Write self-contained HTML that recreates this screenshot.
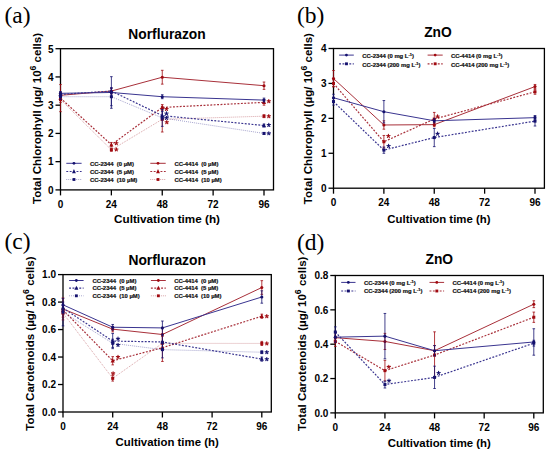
<!DOCTYPE html>
<html><head><meta charset="utf-8"><style>
html,body{margin:0;padding:0;background:#fff;width:550px;height:456px;overflow:hidden}
svg{display:block}
</style></head><body>
<svg width="550" height="456" viewBox="0 0 550 456">
<rect width="550" height="456" fill="#fff"/>
<text x="4.5" y="23.3" font-family="'Liberation Serif', serif" font-size="23.5" fill="#000">(a)</text>
<text x="167" y="38.9" font-family="'Liberation Sans', sans-serif" font-weight="bold" font-size="13.8" text-anchor="middle" fill="#000">Norflurazon</text>
<rect x="60.5" y="48.7" width="213" height="141.2" fill="none" stroke="#000" stroke-width="1.3"/>
<line x1="55.5" y1="189.9" x2="60.5" y2="189.9" stroke="#000" stroke-width="1.3"/>
<text x="53.5" y="193.7" font-family="'Liberation Sans', sans-serif" font-weight="bold" font-size="10" text-anchor="end" fill="#000">0</text>
<line x1="55.5" y1="161.66" x2="60.5" y2="161.66" stroke="#000" stroke-width="1.3"/>
<text x="53.5" y="165.46" font-family="'Liberation Sans', sans-serif" font-weight="bold" font-size="10" text-anchor="end" fill="#000">1</text>
<line x1="55.5" y1="133.42" x2="60.5" y2="133.42" stroke="#000" stroke-width="1.3"/>
<text x="53.5" y="137.22" font-family="'Liberation Sans', sans-serif" font-weight="bold" font-size="10" text-anchor="end" fill="#000">2</text>
<line x1="55.5" y1="105.18" x2="60.5" y2="105.18" stroke="#000" stroke-width="1.3"/>
<text x="53.5" y="108.98" font-family="'Liberation Sans', sans-serif" font-weight="bold" font-size="10" text-anchor="end" fill="#000">3</text>
<line x1="55.5" y1="76.94" x2="60.5" y2="76.94" stroke="#000" stroke-width="1.3"/>
<text x="53.5" y="80.74" font-family="'Liberation Sans', sans-serif" font-weight="bold" font-size="10" text-anchor="end" fill="#000">4</text>
<line x1="55.5" y1="48.7" x2="60.5" y2="48.7" stroke="#000" stroke-width="1.3"/>
<text x="53.5" y="52.5" font-family="'Liberation Sans', sans-serif" font-weight="bold" font-size="10" text-anchor="end" fill="#000">5</text>
<line x1="60.5" y1="189.9" x2="60.5" y2="195.4" stroke="#000" stroke-width="1.3"/>
<text x="60.5" y="207.6" font-family="'Liberation Sans', sans-serif" font-weight="bold" font-size="10" text-anchor="middle" fill="#000">0</text>
<line x1="111.38" y1="189.9" x2="111.38" y2="195.4" stroke="#000" stroke-width="1.3"/>
<text x="111.38" y="207.6" font-family="'Liberation Sans', sans-serif" font-weight="bold" font-size="10" text-anchor="middle" fill="#000">24</text>
<line x1="162.25" y1="189.9" x2="162.25" y2="195.4" stroke="#000" stroke-width="1.3"/>
<text x="162.25" y="207.6" font-family="'Liberation Sans', sans-serif" font-weight="bold" font-size="10" text-anchor="middle" fill="#000">48</text>
<line x1="213.12" y1="189.9" x2="213.12" y2="195.4" stroke="#000" stroke-width="1.3"/>
<text x="213.12" y="207.6" font-family="'Liberation Sans', sans-serif" font-weight="bold" font-size="10" text-anchor="middle" fill="#000">72</text>
<line x1="264" y1="189.9" x2="264" y2="195.4" stroke="#000" stroke-width="1.3"/>
<text x="264" y="207.6" font-family="'Liberation Sans', sans-serif" font-weight="bold" font-size="10" text-anchor="middle" fill="#000">96</text>
<text x="167" y="223.4" font-family="'Liberation Sans', sans-serif" font-weight="bold" font-size="11.7" text-anchor="middle" fill="#000">Cultivation time (h)</text>
<text transform="translate(41,118.5) rotate(-90)" font-family="'Liberation Sans', sans-serif" font-weight="bold" font-size="11.5" text-anchor="middle" fill="#000">Total Chlorophyll (µg/ 10<tspan font-size="8.8" dy="-5">6</tspan><tspan dy="5"> cells)</tspan></text>
<polyline points="60.5,95.3 111.38,91.06 162.25,77.22 264,85.69" fill="none" stroke="#a8303a" stroke-width="1.0"/>
<polyline points="60.5,98.12 111.38,144.72 162.25,107.44 264,102.36" fill="none" stroke="#a8303a" stroke-width="1.2" stroke-dasharray="1.9 1.5"/>
<polyline points="60.5,99.53 111.38,149.8 162.25,119.3 264,116.19" fill="none" stroke="#a8303a" stroke-width="0.9" stroke-dasharray="0.9 1.1" stroke-opacity="0.55"/>
<polyline points="60.5,93.32 111.38,92.47 162.25,96.71 264,100.1" fill="none" stroke="#3a3590" stroke-width="1.0"/>
<polyline points="60.5,94.45 111.38,91.06 162.25,115.63 264,125.51" fill="none" stroke="#3a3590" stroke-width="1.2" stroke-dasharray="1.9 1.5"/>
<polyline points="60.5,96.71 111.38,96.71 162.25,117.89 264,133.42" fill="none" stroke="#3a3590" stroke-width="0.9" stroke-dasharray="0.9 1.1" stroke-opacity="0.55"/>
<path d="M60.5 92.47V98.12M59.2 92.47H61.8M59.2 98.12H61.8" stroke="#a00a10" stroke-width="0.8" fill="none"/>
<circle cx="60.5" cy="95.3" r="1.55" fill="#a00a10"/>
<path d="M111.38 88.24V93.88M110.08 88.24H112.67M110.08 93.88H112.67" stroke="#a00a10" stroke-width="0.8" fill="none"/>
<circle cx="111.38" cy="91.06" r="1.55" fill="#a00a10"/>
<path d="M162.25 70.3V84.14M160.95 70.3H163.55M160.95 84.14H163.55" stroke="#a00a10" stroke-width="0.8" fill="none"/>
<circle cx="162.25" cy="77.22" r="1.55" fill="#a00a10"/>
<path d="M264 82.02V89.37M262.7 82.02H265.3M262.7 89.37H265.3" stroke="#a00a10" stroke-width="0.8" fill="none"/>
<circle cx="264" cy="85.69" r="1.55" fill="#a00a10"/>
<path d="M60.5 84.56V111.68M59.2 84.56H61.8M59.2 111.68H61.8" stroke="#a00a10" stroke-width="0.8" fill="none"/>
<path d="M60.5 95.54L62.55 99.84L58.45 99.84Z" fill="#a00a10"/>
<path d="M111.38 142.46V146.98M110.08 142.46H112.67M110.08 146.98H112.67" stroke="#a00a10" stroke-width="0.8" fill="none"/>
<path d="M111.38 142.14L113.42 146.44L109.33 146.44Z" fill="#a00a10"/>
<path d="M162.25 104.62V110.26M160.95 104.62H163.55M160.95 110.26H163.55" stroke="#a00a10" stroke-width="0.8" fill="none"/>
<path d="M162.25 104.86L164.3 109.16L160.2 109.16Z" fill="#a00a10"/>
<path d="M264 99.53V105.18M262.7 99.53H265.3M262.7 105.18H265.3" stroke="#a00a10" stroke-width="0.8" fill="none"/>
<path d="M264 99.78L266.05 104.08L261.95 104.08Z" fill="#a00a10"/>
<path d="M60.5 96.71V102.36M59.2 96.71H61.8M59.2 102.36H61.8" stroke="#a00a10" stroke-width="0.8" fill="none"/>
<rect x="59" y="98.03" width="3" height="3" fill="#a00a10"/>
<path d="M111.38 148.39V151.21M110.08 148.39H112.67M110.08 151.21H112.67" stroke="#a00a10" stroke-width="0.8" fill="none"/>
<rect x="109.88" y="148.3" width="3" height="3" fill="#a00a10"/>
<path d="M162.25 106.59V132.01M160.95 106.59H163.55M160.95 132.01H163.55" stroke="#a00a10" stroke-width="0.8" fill="none"/>
<rect x="160.75" y="117.8" width="3" height="3" fill="#a00a10"/>
<path d="M264 114.78V117.61M262.7 114.78H265.3M262.7 117.61H265.3" stroke="#a00a10" stroke-width="0.8" fill="none"/>
<rect x="262.5" y="114.69" width="3" height="3" fill="#a00a10"/>
<path d="M60.5 91.91V94.73M59.2 91.91H61.8M59.2 94.73H61.8" stroke="#14116e" stroke-width="0.8" fill="none"/>
<circle cx="60.5" cy="93.32" r="1.55" fill="#14116e"/>
<path d="M111.38 76.66V108.29M110.08 76.66H112.67M110.08 108.29H112.67" stroke="#14116e" stroke-width="0.8" fill="none"/>
<circle cx="111.38" cy="92.47" r="1.55" fill="#14116e"/>
<path d="M162.25 94.73V98.68M160.95 94.73H163.55M160.95 98.68H163.55" stroke="#14116e" stroke-width="0.8" fill="none"/>
<circle cx="162.25" cy="96.71" r="1.55" fill="#14116e"/>
<path d="M264 98.12V102.07M262.7 98.12H265.3M262.7 102.07H265.3" stroke="#14116e" stroke-width="0.8" fill="none"/>
<circle cx="264" cy="100.1" r="1.55" fill="#14116e"/>
<path d="M60.5 91.62V97.27M59.2 91.62H61.8M59.2 97.27H61.8" stroke="#14116e" stroke-width="0.8" fill="none"/>
<path d="M60.5 91.87L62.55 96.17L58.45 96.17Z" fill="#14116e"/>
<path d="M111.38 88.24V93.88M110.08 88.24H112.67M110.08 93.88H112.67" stroke="#14116e" stroke-width="0.8" fill="none"/>
<path d="M111.38 88.48L113.42 92.78L109.33 92.78Z" fill="#14116e"/>
<path d="M162.25 111.39V119.86M160.95 111.39H163.55M160.95 119.86H163.55" stroke="#14116e" stroke-width="0.8" fill="none"/>
<path d="M162.25 113.05L164.3 117.35L160.2 117.35Z" fill="#14116e"/>
<path d="M264 124.1V126.92M262.7 124.1H265.3M262.7 126.92H265.3" stroke="#14116e" stroke-width="0.8" fill="none"/>
<path d="M264 122.93L266.05 127.23L261.95 127.23Z" fill="#14116e"/>
<path d="M60.5 93.88V99.53M59.2 93.88H61.8M59.2 99.53H61.8" stroke="#14116e" stroke-width="0.8" fill="none"/>
<rect x="59" y="95.21" width="3" height="3" fill="#14116e"/>
<path d="M111.38 87.67V105.74M110.08 87.67H112.67M110.08 105.74H112.67" stroke="#14116e" stroke-width="0.8" fill="none"/>
<rect x="109.88" y="95.21" width="3" height="3" fill="#14116e"/>
<path d="M162.25 109.42V126.36M160.95 109.42H163.55M160.95 126.36H163.55" stroke="#14116e" stroke-width="0.8" fill="none"/>
<rect x="160.75" y="116.39" width="3" height="3" fill="#14116e"/>
<path d="M264 132.57V134.27M262.7 132.57H265.3M262.7 134.27H265.3" stroke="#14116e" stroke-width="0.8" fill="none"/>
<rect x="262.5" y="131.92" width="3" height="3" fill="#14116e"/>
<path d="M116.3 143.2L116.3 141.5M116.3 143.2L117.92 142.67M116.3 143.2L117.3 144.58M116.3 143.2L115.3 144.58M116.3 143.2L114.68 142.67" stroke="#a00a10" stroke-width="1.1" stroke-linecap="round" fill="none"/>
<path d="M116.3 149.5L116.3 147.8M116.3 149.5L117.92 148.97M116.3 149.5L117.3 150.88M116.3 149.5L115.3 150.88M116.3 149.5L114.68 148.97" stroke="#a00a10" stroke-width="1.1" stroke-linecap="round" fill="none"/>
<path d="M166.5 109L166.5 107.3M166.5 109L168.12 108.47M166.5 109L167.5 110.38M166.5 109L165.5 110.38M166.5 109L164.88 108.47" stroke="#a00a10" stroke-width="1.1" stroke-linecap="round" fill="none"/>
<path d="M166.5 113.5L166.5 111.8M166.5 113.5L168.12 112.97M166.5 113.5L167.5 114.88M166.5 113.5L165.5 114.88M166.5 113.5L164.88 112.97" stroke="#14116e" stroke-width="1.1" stroke-linecap="round" fill="none"/>
<path d="M166.5 118L166.5 116.3M166.5 118L168.12 117.47M166.5 118L167.5 119.38M166.5 118L165.5 119.38M166.5 118L164.88 117.47" stroke="#14116e" stroke-width="1.1" stroke-linecap="round" fill="none"/>
<path d="M166.8 122.3L166.8 120.6M166.8 122.3L168.42 121.77M166.8 122.3L167.8 123.68M166.8 122.3L165.8 123.68M166.8 122.3L165.18 121.77" stroke="#a00a10" stroke-width="1.1" stroke-linecap="round" fill="none"/>
<path d="M268.8 101.3L268.8 99.6M268.8 101.3L270.42 100.77M268.8 101.3L269.8 102.68M268.8 101.3L267.8 102.68M268.8 101.3L267.18 100.77" stroke="#a00a10" stroke-width="1.1" stroke-linecap="round" fill="none"/>
<path d="M268.8 116.3L268.8 114.6M268.8 116.3L270.42 115.77M268.8 116.3L269.8 117.68M268.8 116.3L267.8 117.68M268.8 116.3L267.18 115.77" stroke="#a00a10" stroke-width="1.1" stroke-linecap="round" fill="none"/>
<path d="M268.8 125.1L268.8 123.4M268.8 125.1L270.42 124.57M268.8 125.1L269.8 126.48M268.8 125.1L267.8 126.48M268.8 125.1L267.18 124.57" stroke="#14116e" stroke-width="1.1" stroke-linecap="round" fill="none"/>
<path d="M268.8 133.4L268.8 131.7M268.8 133.4L270.42 132.87M268.8 133.4L269.8 134.78M268.8 133.4L267.8 134.78M268.8 133.4L267.18 132.87" stroke="#14116e" stroke-width="1.1" stroke-linecap="round" fill="none"/>
<line x1="66.3" y1="163.3" x2="81.6" y2="163.3" stroke="#3a3590" stroke-width="1.0"/>
<circle cx="73.95" cy="163.3" r="1.4" fill="#14116e"/>
<text x="90" y="165.5" font-family="'Liberation Sans', sans-serif" font-weight="bold" font-size="5.9" fill="#111" stroke="#111" stroke-width="0.2" xml:space="preserve">CC-2344  (0 µM)</text>
<line x1="66.3" y1="171.5" x2="81.6" y2="171.5" stroke="#3a3590" stroke-width="1.2" stroke-dasharray="1.9 1.5"/>
<path d="M73.95 169.05L75.9 173.13L72 173.13Z" fill="#14116e"/>
<text x="90" y="173.7" font-family="'Liberation Sans', sans-serif" font-weight="bold" font-size="5.9" fill="#111" stroke="#111" stroke-width="0.2" xml:space="preserve">CC-2344  (5 µM)</text>
<line x1="66.3" y1="179.5" x2="81.6" y2="179.5" stroke="#3a3590" stroke-width="0.9" stroke-dasharray="0.9 1.1" stroke-opacity="0.55"/>
<rect x="72.52" y="178.07" width="2.85" height="2.85" fill="#14116e"/>
<text x="90" y="181.7" font-family="'Liberation Sans', sans-serif" font-weight="bold" font-size="5.9" fill="#111" stroke="#111" stroke-width="0.2" xml:space="preserve">CC-2344  (10 µM)</text>
<line x1="150.3" y1="163.3" x2="165.7" y2="163.3" stroke="#a8303a" stroke-width="1.0"/>
<circle cx="158" cy="163.3" r="1.4" fill="#a00a10"/>
<text x="174.4" y="165.5" font-family="'Liberation Sans', sans-serif" font-weight="bold" font-size="5.9" fill="#111" stroke="#111" stroke-width="0.2" xml:space="preserve">CC-4414  (0 µM)</text>
<line x1="150.3" y1="171.5" x2="165.7" y2="171.5" stroke="#a8303a" stroke-width="1.2" stroke-dasharray="1.9 1.5"/>
<path d="M158 169.05L159.95 173.13L156.05 173.13Z" fill="#a00a10"/>
<text x="174.4" y="173.7" font-family="'Liberation Sans', sans-serif" font-weight="bold" font-size="5.9" fill="#111" stroke="#111" stroke-width="0.2" xml:space="preserve">CC-4414  (5 µM)</text>
<line x1="150.3" y1="179.5" x2="165.7" y2="179.5" stroke="#a8303a" stroke-width="0.9" stroke-dasharray="0.9 1.1" stroke-opacity="0.55"/>
<rect x="156.57" y="178.07" width="2.85" height="2.85" fill="#a00a10"/>
<text x="174.4" y="181.7" font-family="'Liberation Sans', sans-serif" font-weight="bold" font-size="5.9" fill="#111" stroke="#111" stroke-width="0.2" xml:space="preserve">CC-4414  (10 µM)</text>
<text x="297" y="23.1" font-family="'Liberation Serif', serif" font-size="23.5" fill="#000">(b)</text>
<text x="437.95" y="36.6" font-family="'Liberation Sans', sans-serif" font-weight="bold" font-size="13.8" text-anchor="middle" fill="#000">ZnO</text>
<rect x="333.5" y="48.5" width="210.9" height="139.7" fill="none" stroke="#000" stroke-width="1.3"/>
<line x1="328.5" y1="188.2" x2="333.5" y2="188.2" stroke="#000" stroke-width="1.3"/>
<text x="326.5" y="192" font-family="'Liberation Sans', sans-serif" font-weight="bold" font-size="10" text-anchor="end" fill="#000">0</text>
<line x1="328.5" y1="153.27" x2="333.5" y2="153.27" stroke="#000" stroke-width="1.3"/>
<text x="326.5" y="157.07" font-family="'Liberation Sans', sans-serif" font-weight="bold" font-size="10" text-anchor="end" fill="#000">1</text>
<line x1="328.5" y1="118.35" x2="333.5" y2="118.35" stroke="#000" stroke-width="1.3"/>
<text x="326.5" y="122.15" font-family="'Liberation Sans', sans-serif" font-weight="bold" font-size="10" text-anchor="end" fill="#000">2</text>
<line x1="328.5" y1="83.42" x2="333.5" y2="83.42" stroke="#000" stroke-width="1.3"/>
<text x="326.5" y="87.22" font-family="'Liberation Sans', sans-serif" font-weight="bold" font-size="10" text-anchor="end" fill="#000">3</text>
<line x1="328.5" y1="48.5" x2="333.5" y2="48.5" stroke="#000" stroke-width="1.3"/>
<text x="326.5" y="52.3" font-family="'Liberation Sans', sans-serif" font-weight="bold" font-size="10" text-anchor="end" fill="#000">4</text>
<line x1="333.5" y1="188.2" x2="333.5" y2="193.7" stroke="#000" stroke-width="1.3"/>
<text x="333.5" y="205.9" font-family="'Liberation Sans', sans-serif" font-weight="bold" font-size="10" text-anchor="middle" fill="#000">0</text>
<line x1="383.88" y1="188.2" x2="383.88" y2="193.7" stroke="#000" stroke-width="1.3"/>
<text x="383.88" y="205.9" font-family="'Liberation Sans', sans-serif" font-weight="bold" font-size="10" text-anchor="middle" fill="#000">24</text>
<line x1="434.25" y1="188.2" x2="434.25" y2="193.7" stroke="#000" stroke-width="1.3"/>
<text x="434.25" y="205.9" font-family="'Liberation Sans', sans-serif" font-weight="bold" font-size="10" text-anchor="middle" fill="#000">48</text>
<line x1="484.62" y1="188.2" x2="484.62" y2="193.7" stroke="#000" stroke-width="1.3"/>
<text x="484.62" y="205.9" font-family="'Liberation Sans', sans-serif" font-weight="bold" font-size="10" text-anchor="middle" fill="#000">72</text>
<line x1="535" y1="188.2" x2="535" y2="193.7" stroke="#000" stroke-width="1.3"/>
<text x="535" y="205.9" font-family="'Liberation Sans', sans-serif" font-weight="bold" font-size="10" text-anchor="middle" fill="#000">96</text>
<text x="438.95" y="222.6" font-family="'Liberation Sans', sans-serif" font-weight="bold" font-size="11.4" text-anchor="middle" fill="#000">Cultivation time (h)</text>
<text transform="translate(312.3,118.6) rotate(-90)" font-family="'Liberation Sans', sans-serif" font-weight="bold" font-size="11.5" text-anchor="middle" fill="#000">Total Chlorophyll (µg/ 10<tspan font-size="8.8" dy="-5">6</tspan><tspan dy="5"> cells)</tspan></text>
<polyline points="333.5,78.54 383.88,124.99 434.25,124.64 535,86.57" fill="none" stroke="#a8303a" stroke-width="1.0"/>
<polyline points="333.5,83.42 383.88,141.75 434.25,119.05 535,91.81" fill="none" stroke="#a8303a" stroke-width="1.2" stroke-dasharray="1.9 1.5"/>
<polyline points="333.5,97.74 383.88,111.71 434.25,120.79 535,117.65" fill="none" stroke="#3a3590" stroke-width="1.0"/>
<polyline points="333.5,101.59 383.88,150.13 434.25,137.56 535,121.14" fill="none" stroke="#3a3590" stroke-width="1.2" stroke-dasharray="1.9 1.5"/>
<path d="M333.5 70.5V86.57M332.2 70.5H334.8M332.2 86.57H334.8" stroke="#a00a10" stroke-width="0.8" fill="none"/>
<circle cx="333.5" cy="78.54" r="1.55" fill="#a00a10"/>
<path d="M383.88 120.79V129.18M382.57 120.79H385.18M382.57 129.18H385.18" stroke="#a00a10" stroke-width="0.8" fill="none"/>
<circle cx="383.88" cy="124.99" r="1.55" fill="#a00a10"/>
<path d="M434.25 122.54V126.73M432.95 122.54H435.55M432.95 126.73H435.55" stroke="#a00a10" stroke-width="0.8" fill="none"/>
<circle cx="434.25" cy="124.64" r="1.55" fill="#a00a10"/>
<path d="M535 84.47V88.66M533.7 84.47H536.3M533.7 88.66H536.3" stroke="#a00a10" stroke-width="0.8" fill="none"/>
<circle cx="535" cy="86.57" r="1.55" fill="#a00a10"/>
<path d="M333.5 79.93V86.92M332.2 79.93H334.8M332.2 86.92H334.8" stroke="#a00a10" stroke-width="0.8" fill="none"/>
<rect x="332" y="81.92" width="3" height="3" fill="#a00a10"/>
<path d="M383.88 135.46V148.04M382.57 135.46H385.18M382.57 148.04H385.18" stroke="#a00a10" stroke-width="0.8" fill="none"/>
<rect x="382.38" y="140.25" width="3" height="3" fill="#a00a10"/>
<path d="M434.25 112.41V125.68M432.95 112.41H435.55M432.95 125.68H435.55" stroke="#a00a10" stroke-width="0.8" fill="none"/>
<rect x="432.75" y="117.55" width="3" height="3" fill="#a00a10"/>
<path d="M535 89.36V94.25M533.7 89.36H536.3M533.7 94.25H536.3" stroke="#a00a10" stroke-width="0.8" fill="none"/>
<rect x="533.5" y="90.31" width="3" height="3" fill="#a00a10"/>
<path d="M333.5 94.25V101.24M332.2 94.25H334.8M332.2 101.24H334.8" stroke="#14116e" stroke-width="0.8" fill="none"/>
<circle cx="333.5" cy="97.74" r="1.55" fill="#14116e"/>
<path d="M383.88 100.54V122.89M382.57 100.54H385.18M382.57 122.89H385.18" stroke="#14116e" stroke-width="0.8" fill="none"/>
<circle cx="383.88" cy="111.71" r="1.55" fill="#14116e"/>
<path d="M434.25 118.7V122.89M432.95 118.7H435.55M432.95 122.89H435.55" stroke="#14116e" stroke-width="0.8" fill="none"/>
<circle cx="434.25" cy="120.79" r="1.55" fill="#14116e"/>
<path d="M535 115.56V119.75M533.7 115.56H536.3M533.7 119.75H536.3" stroke="#14116e" stroke-width="0.8" fill="none"/>
<circle cx="535" cy="117.65" r="1.55" fill="#14116e"/>
<path d="M333.5 98.09V105.08M332.2 98.09H334.8M332.2 105.08H334.8" stroke="#14116e" stroke-width="0.8" fill="none"/>
<rect x="332" y="100.09" width="3" height="3" fill="#14116e"/>
<path d="M383.88 146.99V153.27M382.57 146.99H385.18M382.57 153.27H385.18" stroke="#14116e" stroke-width="0.8" fill="none"/>
<rect x="382.38" y="148.63" width="3" height="3" fill="#14116e"/>
<path d="M434.25 128.48V146.64M432.95 128.48H435.55M432.95 146.64H435.55" stroke="#14116e" stroke-width="0.8" fill="none"/>
<rect x="432.75" y="136.06" width="3" height="3" fill="#14116e"/>
<path d="M535 116.25V126.03M533.7 116.25H536.3M533.7 126.03H536.3" stroke="#14116e" stroke-width="0.8" fill="none"/>
<rect x="533.5" y="119.64" width="3" height="3" fill="#14116e"/>
<path d="M388.4 136L388.4 134.3M388.4 136L390.02 135.47M388.4 136L389.4 137.38M388.4 136L387.4 137.38M388.4 136L386.78 135.47" stroke="#a00a10" stroke-width="1.1" stroke-linecap="round" fill="none"/>
<path d="M388.6 146.1L388.6 144.4M388.6 146.1L390.22 145.57M388.6 146.1L389.6 147.48M388.6 146.1L387.6 147.48M388.6 146.1L386.98 145.57" stroke="#14116e" stroke-width="1.1" stroke-linecap="round" fill="none"/>
<path d="M437.6 116.5L437.6 114.8M437.6 116.5L439.22 115.97M437.6 116.5L438.6 117.88M437.6 116.5L436.6 117.88M437.6 116.5L435.98 115.97" stroke="#a00a10" stroke-width="1.1" stroke-linecap="round" fill="none"/>
<path d="M437.6 133.8L437.6 132.1M437.6 133.8L439.22 133.27M437.6 133.8L438.6 135.18M437.6 133.8L436.6 135.18M437.6 133.8L435.98 133.27" stroke="#14116e" stroke-width="1.1" stroke-linecap="round" fill="none"/>
<line x1="339.1" y1="55.1" x2="353.8" y2="55.1" stroke="#3a3590" stroke-width="1.0"/>
<circle cx="346.45" cy="55.1" r="1.4" fill="#14116e"/>
<text x="362.3" y="57.9" font-family="'Liberation Sans', sans-serif" font-weight="bold" font-size="5.9" fill="#111" stroke="#111" stroke-width="0.2" xml:space="preserve">CC-2344 (0 mg L<tspan font-size="4" dy="-2">-1</tspan><tspan dy="2">)</tspan></text>
<line x1="339.1" y1="63.8" x2="353.8" y2="63.8" stroke="#3a3590" stroke-width="1.2" stroke-dasharray="1.9 1.5"/>
<rect x="345.03" y="62.38" width="2.85" height="2.85" fill="#14116e"/>
<text x="362.3" y="66.6" font-family="'Liberation Sans', sans-serif" font-weight="bold" font-size="5.9" fill="#111" stroke="#111" stroke-width="0.2" xml:space="preserve">CC-2344 (200 mg L<tspan font-size="4" dy="-2">-1</tspan><tspan dy="2">)</tspan></text>
<line x1="427.6" y1="55.1" x2="442.7" y2="55.1" stroke="#a8303a" stroke-width="1.0"/>
<circle cx="435.15" cy="55.1" r="1.4" fill="#a00a10"/>
<text x="450.9" y="57.9" font-family="'Liberation Sans', sans-serif" font-weight="bold" font-size="5.9" fill="#111" stroke="#111" stroke-width="0.2" xml:space="preserve">CC-4414 (0 mg L<tspan font-size="4" dy="-2">-1</tspan><tspan dy="2">)</tspan></text>
<line x1="427.6" y1="63.8" x2="442.7" y2="63.8" stroke="#a8303a" stroke-width="1.2" stroke-dasharray="1.9 1.5"/>
<rect x="433.72" y="62.38" width="2.85" height="2.85" fill="#a00a10"/>
<text x="450.9" y="66.6" font-family="'Liberation Sans', sans-serif" font-weight="bold" font-size="5.9" fill="#111" stroke="#111" stroke-width="0.2" xml:space="preserve">CC-4414 (200 mg L<tspan font-size="4" dy="-2">-1</tspan><tspan dy="2">)</tspan></text>
<text x="4.5" y="249" font-family="'Liberation Serif', serif" font-size="23.5" fill="#000">(c)</text>
<text x="167.15" y="265.2" font-family="'Liberation Sans', sans-serif" font-weight="bold" font-size="13.8" text-anchor="middle" fill="#000">Norflurazon</text>
<rect x="63" y="274.6" width="208.3" height="137.4" fill="none" stroke="#000" stroke-width="1.3"/>
<line x1="58" y1="412" x2="63" y2="412" stroke="#000" stroke-width="1.3"/>
<text x="56" y="415.8" font-family="'Liberation Sans', sans-serif" font-weight="bold" font-size="10" text-anchor="end" fill="#000">0.0</text>
<line x1="58" y1="384.52" x2="63" y2="384.52" stroke="#000" stroke-width="1.3"/>
<text x="56" y="388.32" font-family="'Liberation Sans', sans-serif" font-weight="bold" font-size="10" text-anchor="end" fill="#000">0.2</text>
<line x1="58" y1="357.04" x2="63" y2="357.04" stroke="#000" stroke-width="1.3"/>
<text x="56" y="360.84" font-family="'Liberation Sans', sans-serif" font-weight="bold" font-size="10" text-anchor="end" fill="#000">0.4</text>
<line x1="58" y1="329.56" x2="63" y2="329.56" stroke="#000" stroke-width="1.3"/>
<text x="56" y="333.36" font-family="'Liberation Sans', sans-serif" font-weight="bold" font-size="10" text-anchor="end" fill="#000">0.6</text>
<line x1="58" y1="302.08" x2="63" y2="302.08" stroke="#000" stroke-width="1.3"/>
<text x="56" y="305.88" font-family="'Liberation Sans', sans-serif" font-weight="bold" font-size="10" text-anchor="end" fill="#000">0.8</text>
<line x1="58" y1="274.6" x2="63" y2="274.6" stroke="#000" stroke-width="1.3"/>
<text x="56" y="278.4" font-family="'Liberation Sans', sans-serif" font-weight="bold" font-size="10" text-anchor="end" fill="#000">1.0</text>
<line x1="63" y1="412" x2="63" y2="417.5" stroke="#000" stroke-width="1.3"/>
<text x="63" y="429.7" font-family="'Liberation Sans', sans-serif" font-weight="bold" font-size="10" text-anchor="middle" fill="#000">0</text>
<line x1="112.7" y1="412" x2="112.7" y2="417.5" stroke="#000" stroke-width="1.3"/>
<text x="112.7" y="429.7" font-family="'Liberation Sans', sans-serif" font-weight="bold" font-size="10" text-anchor="middle" fill="#000">24</text>
<line x1="162.4" y1="412" x2="162.4" y2="417.5" stroke="#000" stroke-width="1.3"/>
<text x="162.4" y="429.7" font-family="'Liberation Sans', sans-serif" font-weight="bold" font-size="10" text-anchor="middle" fill="#000">48</text>
<line x1="212.1" y1="412" x2="212.1" y2="417.5" stroke="#000" stroke-width="1.3"/>
<text x="212.1" y="429.7" font-family="'Liberation Sans', sans-serif" font-weight="bold" font-size="10" text-anchor="middle" fill="#000">72</text>
<line x1="261.8" y1="412" x2="261.8" y2="417.5" stroke="#000" stroke-width="1.3"/>
<text x="261.8" y="429.7" font-family="'Liberation Sans', sans-serif" font-weight="bold" font-size="10" text-anchor="middle" fill="#000">96</text>
<text x="167.15" y="446" font-family="'Liberation Sans', sans-serif" font-weight="bold" font-size="11.4" text-anchor="middle" fill="#000">Cultivation time (h)</text>
<text transform="translate(34.2,343.6) rotate(-90)" font-family="'Liberation Sans', sans-serif" font-weight="bold" font-size="11.5" text-anchor="middle" fill="#000">Total Carotenoids (µg/ 10<tspan font-size="8.8" dy="-5">6</tspan><tspan dy="5"> cells)</tspan></text>
<polyline points="63,308.95 112.7,329.15 162.4,334.51 261.8,287.52" fill="none" stroke="#a8303a" stroke-width="1.0"/>
<polyline points="63,309.91 112.7,360.75 162.4,347.7 261.8,316.23" fill="none" stroke="#a8303a" stroke-width="1.2" stroke-dasharray="1.9 1.5"/>
<polyline points="63,313.07 112.7,378.34 162.4,343.3 261.8,343.44" fill="none" stroke="#a8303a" stroke-width="0.9" stroke-dasharray="0.9 1.1" stroke-opacity="0.55"/>
<polyline points="63,304.83 112.7,327.22 162.4,327.91 261.8,297" fill="none" stroke="#3a3590" stroke-width="1.0"/>
<polyline points="63,307.99 112.7,341.1 162.4,341.93 261.8,359.1" fill="none" stroke="#3a3590" stroke-width="1.2" stroke-dasharray="1.9 1.5"/>
<polyline points="63,312.11 112.7,343.3 162.4,349.62 261.8,352.23" fill="none" stroke="#3a3590" stroke-width="0.9" stroke-dasharray="0.9 1.1" stroke-opacity="0.55"/>
<path d="M63 297.96V319.94M61.7 297.96H64.3M61.7 319.94H64.3" stroke="#a00a10" stroke-width="0.8" fill="none"/>
<circle cx="63" cy="308.95" r="1.55" fill="#a00a10"/>
<path d="M112.7 326.4V331.9M111.4 326.4H114M111.4 331.9H114" stroke="#a00a10" stroke-width="0.8" fill="none"/>
<circle cx="112.7" cy="329.15" r="1.55" fill="#a00a10"/>
<path d="M162.4 327.64V341.38M161.1 327.64H163.7M161.1 341.38H163.7" stroke="#a00a10" stroke-width="0.8" fill="none"/>
<circle cx="162.4" cy="334.51" r="1.55" fill="#a00a10"/>
<path d="M261.8 280.65V294.39M260.5 280.65H263.1M260.5 294.39H263.1" stroke="#a00a10" stroke-width="0.8" fill="none"/>
<circle cx="261.8" cy="287.52" r="1.55" fill="#a00a10"/>
<path d="M63 305.79V314.03M61.7 305.79H64.3M61.7 314.03H64.3" stroke="#a00a10" stroke-width="0.8" fill="none"/>
<path d="M63 307.33L65.05 311.63L60.95 311.63Z" fill="#a00a10"/>
<path d="M112.7 356.63V364.87M111.4 356.63H114M111.4 364.87H114" stroke="#a00a10" stroke-width="0.8" fill="none"/>
<path d="M112.7 358.17L114.75 362.47L110.65 362.47Z" fill="#a00a10"/>
<path d="M162.4 333.96V361.44M161.1 333.96H163.7M161.1 361.44H163.7" stroke="#a00a10" stroke-width="0.8" fill="none"/>
<path d="M162.4 345.12L164.45 349.42L160.35 349.42Z" fill="#a00a10"/>
<path d="M261.8 314.17V318.29M260.5 314.17H263.1M260.5 318.29H263.1" stroke="#a00a10" stroke-width="0.8" fill="none"/>
<path d="M261.8 313.65L263.85 317.95L259.75 317.95Z" fill="#a00a10"/>
<path d="M63 308.95V317.19M61.7 308.95H64.3M61.7 317.19H64.3" stroke="#a00a10" stroke-width="0.8" fill="none"/>
<rect x="61.5" y="311.57" width="3" height="3" fill="#a00a10"/>
<path d="M112.7 375.59V381.08M111.4 375.59H114M111.4 381.08H114" stroke="#a00a10" stroke-width="0.8" fill="none"/>
<rect x="111.2" y="376.84" width="3" height="3" fill="#a00a10"/>
<path d="M162.4 336.43V350.17M161.1 336.43H163.7M161.1 350.17H163.7" stroke="#a00a10" stroke-width="0.8" fill="none"/>
<rect x="160.9" y="341.8" width="3" height="3" fill="#a00a10"/>
<path d="M261.8 341.38V345.5M260.5 341.38H263.1M260.5 345.5H263.1" stroke="#a00a10" stroke-width="0.8" fill="none"/>
<rect x="260.3" y="341.94" width="3" height="3" fill="#a00a10"/>
<path d="M63 302.08V307.58M61.7 302.08H64.3M61.7 307.58H64.3" stroke="#14116e" stroke-width="0.8" fill="none"/>
<circle cx="63" cy="304.83" r="1.55" fill="#14116e"/>
<path d="M112.7 324.48V329.97M111.4 324.48H114M111.4 329.97H114" stroke="#14116e" stroke-width="0.8" fill="none"/>
<circle cx="112.7" cy="327.22" r="1.55" fill="#14116e"/>
<path d="M162.4 321.04V334.78M161.1 321.04H163.7M161.1 334.78H163.7" stroke="#14116e" stroke-width="0.8" fill="none"/>
<circle cx="162.4" cy="327.91" r="1.55" fill="#14116e"/>
<path d="M261.8 290.81V303.18M260.5 290.81H263.1M260.5 303.18H263.1" stroke="#14116e" stroke-width="0.8" fill="none"/>
<circle cx="261.8" cy="297" r="1.55" fill="#14116e"/>
<path d="M63 305.24V310.74M61.7 305.24H64.3M61.7 310.74H64.3" stroke="#14116e" stroke-width="0.8" fill="none"/>
<path d="M63 305.41L65.05 309.71L60.95 309.71Z" fill="#14116e"/>
<path d="M112.7 333.54V348.66M111.4 333.54H114M111.4 348.66H114" stroke="#14116e" stroke-width="0.8" fill="none"/>
<path d="M112.7 338.52L114.75 342.82L110.65 342.82Z" fill="#14116e"/>
<path d="M162.4 335.06V348.8M161.1 335.06H163.7M161.1 348.8H163.7" stroke="#14116e" stroke-width="0.8" fill="none"/>
<path d="M162.4 339.35L164.45 343.65L160.35 343.65Z" fill="#14116e"/>
<path d="M261.8 357.04V361.16M260.5 357.04H263.1M260.5 361.16H263.1" stroke="#14116e" stroke-width="0.8" fill="none"/>
<path d="M261.8 356.52L263.85 360.82L259.75 360.82Z" fill="#14116e"/>
<path d="M63 298.37V325.85M61.7 298.37H64.3M61.7 325.85H64.3" stroke="#14116e" stroke-width="0.8" fill="none"/>
<rect x="61.5" y="310.61" width="3" height="3" fill="#14116e"/>
<path d="M112.7 339.18V347.42M111.4 339.18H114M111.4 347.42H114" stroke="#14116e" stroke-width="0.8" fill="none"/>
<rect x="111.2" y="341.8" width="3" height="3" fill="#14116e"/>
<path d="M162.4 341.38V357.86M161.1 341.38H163.7M161.1 357.86H163.7" stroke="#14116e" stroke-width="0.8" fill="none"/>
<rect x="160.9" y="348.12" width="3" height="3" fill="#14116e"/>
<path d="M261.8 350.86V353.61M260.5 350.86H263.1M260.5 353.61H263.1" stroke="#14116e" stroke-width="0.8" fill="none"/>
<rect x="260.3" y="350.73" width="3" height="3" fill="#14116e"/>
<path d="M118 338.8L118 337.1M118 338.8L119.62 338.27M118 338.8L119 340.18M118 338.8L117 340.18M118 338.8L116.38 338.27" stroke="#14116e" stroke-width="1.1" stroke-linecap="round" fill="none"/>
<path d="M118 345L118 343.3M118 345L119.62 344.47M118 345L119 346.38M118 345L117 346.38M118 345L116.38 344.47" stroke="#14116e" stroke-width="1.1" stroke-linecap="round" fill="none"/>
<path d="M118 357L118 355.3M118 357L119.62 356.47M118 357L119 358.38M118 357L117 358.38M118 357L116.38 356.47" stroke="#a00a10" stroke-width="1.1" stroke-linecap="round" fill="none"/>
<path d="M113.1 373.4L113.1 371.7M113.1 373.4L114.72 372.87M113.1 373.4L114.1 374.78M113.1 373.4L112.1 374.78M113.1 373.4L111.48 372.87" stroke="#a00a10" stroke-width="1.1" stroke-linecap="round" fill="none"/>
<path d="M266.8 316.3L266.8 314.6M266.8 316.3L268.42 315.77M266.8 316.3L267.8 317.68M266.8 316.3L265.8 317.68M266.8 316.3L265.18 315.77" stroke="#a00a10" stroke-width="1.1" stroke-linecap="round" fill="none"/>
<path d="M266.8 343.5L266.8 341.8M266.8 343.5L268.42 342.97M266.8 343.5L267.8 344.88M266.8 343.5L265.8 344.88M266.8 343.5L265.18 342.97" stroke="#a00a10" stroke-width="1.1" stroke-linecap="round" fill="none"/>
<path d="M266.8 352.2L266.8 350.5M266.8 352.2L268.42 351.67M266.8 352.2L267.8 353.58M266.8 352.2L265.8 353.58M266.8 352.2L265.18 351.67" stroke="#14116e" stroke-width="1.1" stroke-linecap="round" fill="none"/>
<path d="M266.8 359.2L266.8 357.5M266.8 359.2L268.42 358.67M266.8 359.2L267.8 360.58M266.8 359.2L265.8 360.58M266.8 359.2L265.18 358.67" stroke="#14116e" stroke-width="1.1" stroke-linecap="round" fill="none"/>
<line x1="69.1" y1="280.5" x2="83.6" y2="280.5" stroke="#3a3590" stroke-width="1.0"/>
<circle cx="76.35" cy="280.5" r="1.4" fill="#14116e"/>
<text x="92.4" y="282.7" font-family="'Liberation Sans', sans-serif" font-weight="bold" font-size="5.9" fill="#111" stroke="#111" stroke-width="0.2" xml:space="preserve">CC-2344  (0 µM)</text>
<line x1="69.1" y1="288.2" x2="83.6" y2="288.2" stroke="#3a3590" stroke-width="1.2" stroke-dasharray="1.9 1.5"/>
<path d="M76.35 285.75L78.3 289.83L74.4 289.83Z" fill="#14116e"/>
<text x="92.4" y="290.4" font-family="'Liberation Sans', sans-serif" font-weight="bold" font-size="5.9" fill="#111" stroke="#111" stroke-width="0.2" xml:space="preserve">CC-2344  (5 µM)</text>
<line x1="69.1" y1="295.8" x2="83.6" y2="295.8" stroke="#3a3590" stroke-width="0.9" stroke-dasharray="0.9 1.1" stroke-opacity="0.55"/>
<rect x="74.92" y="294.38" width="2.85" height="2.85" fill="#14116e"/>
<text x="92.4" y="298" font-family="'Liberation Sans', sans-serif" font-weight="bold" font-size="5.9" fill="#111" stroke="#111" stroke-width="0.2" xml:space="preserve">CC-2344  (10 µM)</text>
<line x1="150.9" y1="280.5" x2="165.8" y2="280.5" stroke="#a8303a" stroke-width="1.0"/>
<circle cx="158.35" cy="280.5" r="1.4" fill="#a00a10"/>
<text x="174.2" y="282.7" font-family="'Liberation Sans', sans-serif" font-weight="bold" font-size="5.9" fill="#111" stroke="#111" stroke-width="0.2" xml:space="preserve">CC-4414  (0 µM)</text>
<line x1="150.9" y1="288.2" x2="165.8" y2="288.2" stroke="#a8303a" stroke-width="1.2" stroke-dasharray="1.9 1.5"/>
<path d="M158.35 285.75L160.3 289.83L156.4 289.83Z" fill="#a00a10"/>
<text x="174.2" y="290.4" font-family="'Liberation Sans', sans-serif" font-weight="bold" font-size="5.9" fill="#111" stroke="#111" stroke-width="0.2" xml:space="preserve">CC-4414  (5 µM)</text>
<line x1="150.9" y1="295.8" x2="165.8" y2="295.8" stroke="#a8303a" stroke-width="0.9" stroke-dasharray="0.9 1.1" stroke-opacity="0.55"/>
<rect x="156.93" y="294.38" width="2.85" height="2.85" fill="#a00a10"/>
<text x="174.2" y="298" font-family="'Liberation Sans', sans-serif" font-weight="bold" font-size="5.9" fill="#111" stroke="#111" stroke-width="0.2" xml:space="preserve">CC-4414  (10 µM)</text>
<text x="297" y="249.5" font-family="'Liberation Serif', serif" font-size="23.5" fill="#000">(d)</text>
<text x="439.3" y="263.7" font-family="'Liberation Sans', sans-serif" font-weight="bold" font-size="13.8" text-anchor="middle" fill="#000">ZnO</text>
<rect x="335.3" y="275.5" width="208" height="137.4" fill="none" stroke="#000" stroke-width="1.3"/>
<line x1="330.3" y1="412.9" x2="335.3" y2="412.9" stroke="#000" stroke-width="1.3"/>
<text x="328.3" y="416.7" font-family="'Liberation Sans', sans-serif" font-weight="bold" font-size="10" text-anchor="end" fill="#000">0.0</text>
<line x1="330.3" y1="378.55" x2="335.3" y2="378.55" stroke="#000" stroke-width="1.3"/>
<text x="328.3" y="382.35" font-family="'Liberation Sans', sans-serif" font-weight="bold" font-size="10" text-anchor="end" fill="#000">0.2</text>
<line x1="330.3" y1="344.2" x2="335.3" y2="344.2" stroke="#000" stroke-width="1.3"/>
<text x="328.3" y="348" font-family="'Liberation Sans', sans-serif" font-weight="bold" font-size="10" text-anchor="end" fill="#000">0.4</text>
<line x1="330.3" y1="309.85" x2="335.3" y2="309.85" stroke="#000" stroke-width="1.3"/>
<text x="328.3" y="313.65" font-family="'Liberation Sans', sans-serif" font-weight="bold" font-size="10" text-anchor="end" fill="#000">0.6</text>
<line x1="330.3" y1="275.5" x2="335.3" y2="275.5" stroke="#000" stroke-width="1.3"/>
<text x="328.3" y="279.3" font-family="'Liberation Sans', sans-serif" font-weight="bold" font-size="10" text-anchor="end" fill="#000">0.8</text>
<line x1="335.3" y1="412.9" x2="335.3" y2="418.4" stroke="#000" stroke-width="1.3"/>
<text x="335.3" y="430.6" font-family="'Liberation Sans', sans-serif" font-weight="bold" font-size="10" text-anchor="middle" fill="#000">0</text>
<line x1="384.93" y1="412.9" x2="384.93" y2="418.4" stroke="#000" stroke-width="1.3"/>
<text x="384.93" y="430.6" font-family="'Liberation Sans', sans-serif" font-weight="bold" font-size="10" text-anchor="middle" fill="#000">24</text>
<line x1="434.55" y1="412.9" x2="434.55" y2="418.4" stroke="#000" stroke-width="1.3"/>
<text x="434.55" y="430.6" font-family="'Liberation Sans', sans-serif" font-weight="bold" font-size="10" text-anchor="middle" fill="#000">48</text>
<line x1="484.17" y1="412.9" x2="484.17" y2="418.4" stroke="#000" stroke-width="1.3"/>
<text x="484.17" y="430.6" font-family="'Liberation Sans', sans-serif" font-weight="bold" font-size="10" text-anchor="middle" fill="#000">72</text>
<line x1="533.8" y1="412.9" x2="533.8" y2="418.4" stroke="#000" stroke-width="1.3"/>
<text x="533.8" y="430.6" font-family="'Liberation Sans', sans-serif" font-weight="bold" font-size="10" text-anchor="middle" fill="#000">96</text>
<text x="439.3" y="446.7" font-family="'Liberation Sans', sans-serif" font-weight="bold" font-size="11.4" text-anchor="middle" fill="#000">Cultivation time (h)</text>
<text transform="translate(306.2,343.75) rotate(-90)" font-family="'Liberation Sans', sans-serif" font-weight="bold" font-size="11.5" text-anchor="middle" fill="#000">Total Carotenoids (µg/ 10<tspan font-size="8.8" dy="-5">6</tspan><tspan dy="5"> cells)</tspan></text>
<polyline points="335.3,337.67 384.93,341.45 434.55,350.73 533.8,304.18" fill="none" stroke="#a8303a" stroke-width="1.0"/>
<polyline points="335.3,341.28 384.93,370.65 434.55,355.02 533.8,317.24" fill="none" stroke="#a8303a" stroke-width="1.2" stroke-dasharray="1.9 1.5"/>
<polyline points="335.3,337.16 384.93,336.13 434.55,350.73 533.8,341.97" fill="none" stroke="#3a3590" stroke-width="1.0"/>
<polyline points="335.3,332.01 384.93,384.56 434.55,377.35 533.8,343.17" fill="none" stroke="#3a3590" stroke-width="1.2" stroke-dasharray="1.9 1.5"/>
<path d="M335.3 332.52V342.83M334 332.52H336.6M334 342.83H336.6" stroke="#a00a10" stroke-width="0.8" fill="none"/>
<circle cx="335.3" cy="337.67" r="1.55" fill="#a00a10"/>
<path d="M384.93 333.38V349.52M383.62 333.38H386.23M383.62 349.52H386.23" stroke="#a00a10" stroke-width="0.8" fill="none"/>
<circle cx="384.93" cy="341.45" r="1.55" fill="#a00a10"/>
<path d="M434.55 345.57V355.88M433.25 345.57H435.85M433.25 355.88H435.85" stroke="#a00a10" stroke-width="0.8" fill="none"/>
<circle cx="434.55" cy="350.73" r="1.55" fill="#a00a10"/>
<path d="M533.8 300.75V307.62M532.5 300.75H535.1M532.5 307.62H535.1" stroke="#a00a10" stroke-width="0.8" fill="none"/>
<circle cx="533.8" cy="304.18" r="1.55" fill="#a00a10"/>
<path d="M335.3 336.13V346.43M334 336.13H336.6M334 346.43H336.6" stroke="#a00a10" stroke-width="0.8" fill="none"/>
<rect x="333.8" y="339.78" width="3" height="3" fill="#a00a10"/>
<path d="M384.93 360.34V380.95M383.62 360.34H386.23M383.62 380.95H386.23" stroke="#a00a10" stroke-width="0.8" fill="none"/>
<rect x="383.43" y="369.15" width="3" height="3" fill="#a00a10"/>
<path d="M434.55 331.83V378.21M433.25 331.83H435.85M433.25 378.21H435.85" stroke="#a00a10" stroke-width="0.8" fill="none"/>
<rect x="433.05" y="353.52" width="3" height="3" fill="#a00a10"/>
<path d="M533.8 312.08V322.39M532.5 312.08H535.1M532.5 322.39H535.1" stroke="#a00a10" stroke-width="0.8" fill="none"/>
<rect x="532.3" y="315.74" width="3" height="3" fill="#a00a10"/>
<path d="M335.3 332.01V342.31M334 332.01H336.6M334 342.31H336.6" stroke="#14116e" stroke-width="0.8" fill="none"/>
<circle cx="335.3" cy="337.16" r="1.55" fill="#14116e"/>
<path d="M384.93 313.46V358.8M383.62 313.46H386.23M383.62 358.8H386.23" stroke="#14116e" stroke-width="0.8" fill="none"/>
<circle cx="384.93" cy="336.13" r="1.55" fill="#14116e"/>
<path d="M434.55 345.57V355.88M433.25 345.57H435.85M433.25 355.88H435.85" stroke="#14116e" stroke-width="0.8" fill="none"/>
<circle cx="434.55" cy="350.73" r="1.55" fill="#14116e"/>
<path d="M533.8 328.74V355.19M532.5 328.74H535.1M532.5 355.19H535.1" stroke="#14116e" stroke-width="0.8" fill="none"/>
<circle cx="533.8" cy="341.97" r="1.55" fill="#14116e"/>
<path d="M335.3 326.85V337.16M334 326.85H336.6M334 337.16H336.6" stroke="#14116e" stroke-width="0.8" fill="none"/>
<rect x="333.8" y="330.51" width="3" height="3" fill="#14116e"/>
<path d="M384.93 381.13V388M383.62 381.13H386.23M383.62 388H386.23" stroke="#14116e" stroke-width="0.8" fill="none"/>
<rect x="383.43" y="383.06" width="3" height="3" fill="#14116e"/>
<path d="M434.55 366.18V388.51M433.25 366.18H435.85M433.25 388.51H435.85" stroke="#14116e" stroke-width="0.8" fill="none"/>
<rect x="433.05" y="375.85" width="3" height="3" fill="#14116e"/>
<path d="M533.8 340.25V346.09M532.5 340.25H535.1M532.5 346.09H535.1" stroke="#14116e" stroke-width="0.8" fill="none"/>
<rect x="532.3" y="341.67" width="3" height="3" fill="#14116e"/>
<path d="M388.8 366.9L388.8 365.2M388.8 366.9L390.42 366.37M388.8 366.9L389.8 368.28M388.8 366.9L387.8 368.28M388.8 366.9L387.18 366.37" stroke="#a00a10" stroke-width="1.1" stroke-linecap="round" fill="none"/>
<path d="M389 380.7L389 379M389 380.7L390.62 380.17M389 380.7L390 382.08M389 380.7L388 382.08M389 380.7L387.38 380.17" stroke="#14116e" stroke-width="1.1" stroke-linecap="round" fill="none"/>
<path d="M438.6 373L438.6 371.3M438.6 373L440.22 372.47M438.6 373L439.6 374.38M438.6 373L437.6 374.38M438.6 373L436.98 372.47" stroke="#14116e" stroke-width="1.1" stroke-linecap="round" fill="none"/>
<line x1="341.2" y1="282.4" x2="355.5" y2="282.4" stroke="#3a3590" stroke-width="1.0"/>
<circle cx="348.35" cy="282.4" r="1.4" fill="#14116e"/>
<text x="364.1" y="284.7" font-family="'Liberation Sans', sans-serif" font-weight="bold" font-size="5.9" fill="#111" stroke="#111" stroke-width="0.2" xml:space="preserve">CC-2344 (0 mg L<tspan font-size="4" dy="-2">-1</tspan><tspan dy="2">)</tspan></text>
<line x1="341.2" y1="291" x2="355.5" y2="291" stroke="#3a3590" stroke-width="1.2" stroke-dasharray="1.9 1.5"/>
<rect x="346.93" y="289.57" width="2.85" height="2.85" fill="#14116e"/>
<text x="364.1" y="293.3" font-family="'Liberation Sans', sans-serif" font-weight="bold" font-size="5.9" fill="#111" stroke="#111" stroke-width="0.2" xml:space="preserve">CC-2344 (200 mg L<tspan font-size="4" dy="-2">-1</tspan><tspan dy="2">)</tspan></text>
<line x1="429.5" y1="282.4" x2="444.1" y2="282.4" stroke="#a8303a" stroke-width="1.0"/>
<circle cx="436.8" cy="282.4" r="1.4" fill="#a00a10"/>
<text x="452.6" y="284.7" font-family="'Liberation Sans', sans-serif" font-weight="bold" font-size="5.9" fill="#111" stroke="#111" stroke-width="0.2" xml:space="preserve">CC-4414 (0 mg L<tspan font-size="4" dy="-2">-1</tspan><tspan dy="2">)</tspan></text>
<line x1="429.5" y1="291" x2="444.1" y2="291" stroke="#a8303a" stroke-width="1.2" stroke-dasharray="1.9 1.5"/>
<rect x="435.38" y="289.57" width="2.85" height="2.85" fill="#a00a10"/>
<text x="452.6" y="293.3" font-family="'Liberation Sans', sans-serif" font-weight="bold" font-size="5.9" fill="#111" stroke="#111" stroke-width="0.2" xml:space="preserve">CC-4414 (200 mg L<tspan font-size="4" dy="-2">-1</tspan><tspan dy="2">)</tspan></text>
</svg>
</body></html>
